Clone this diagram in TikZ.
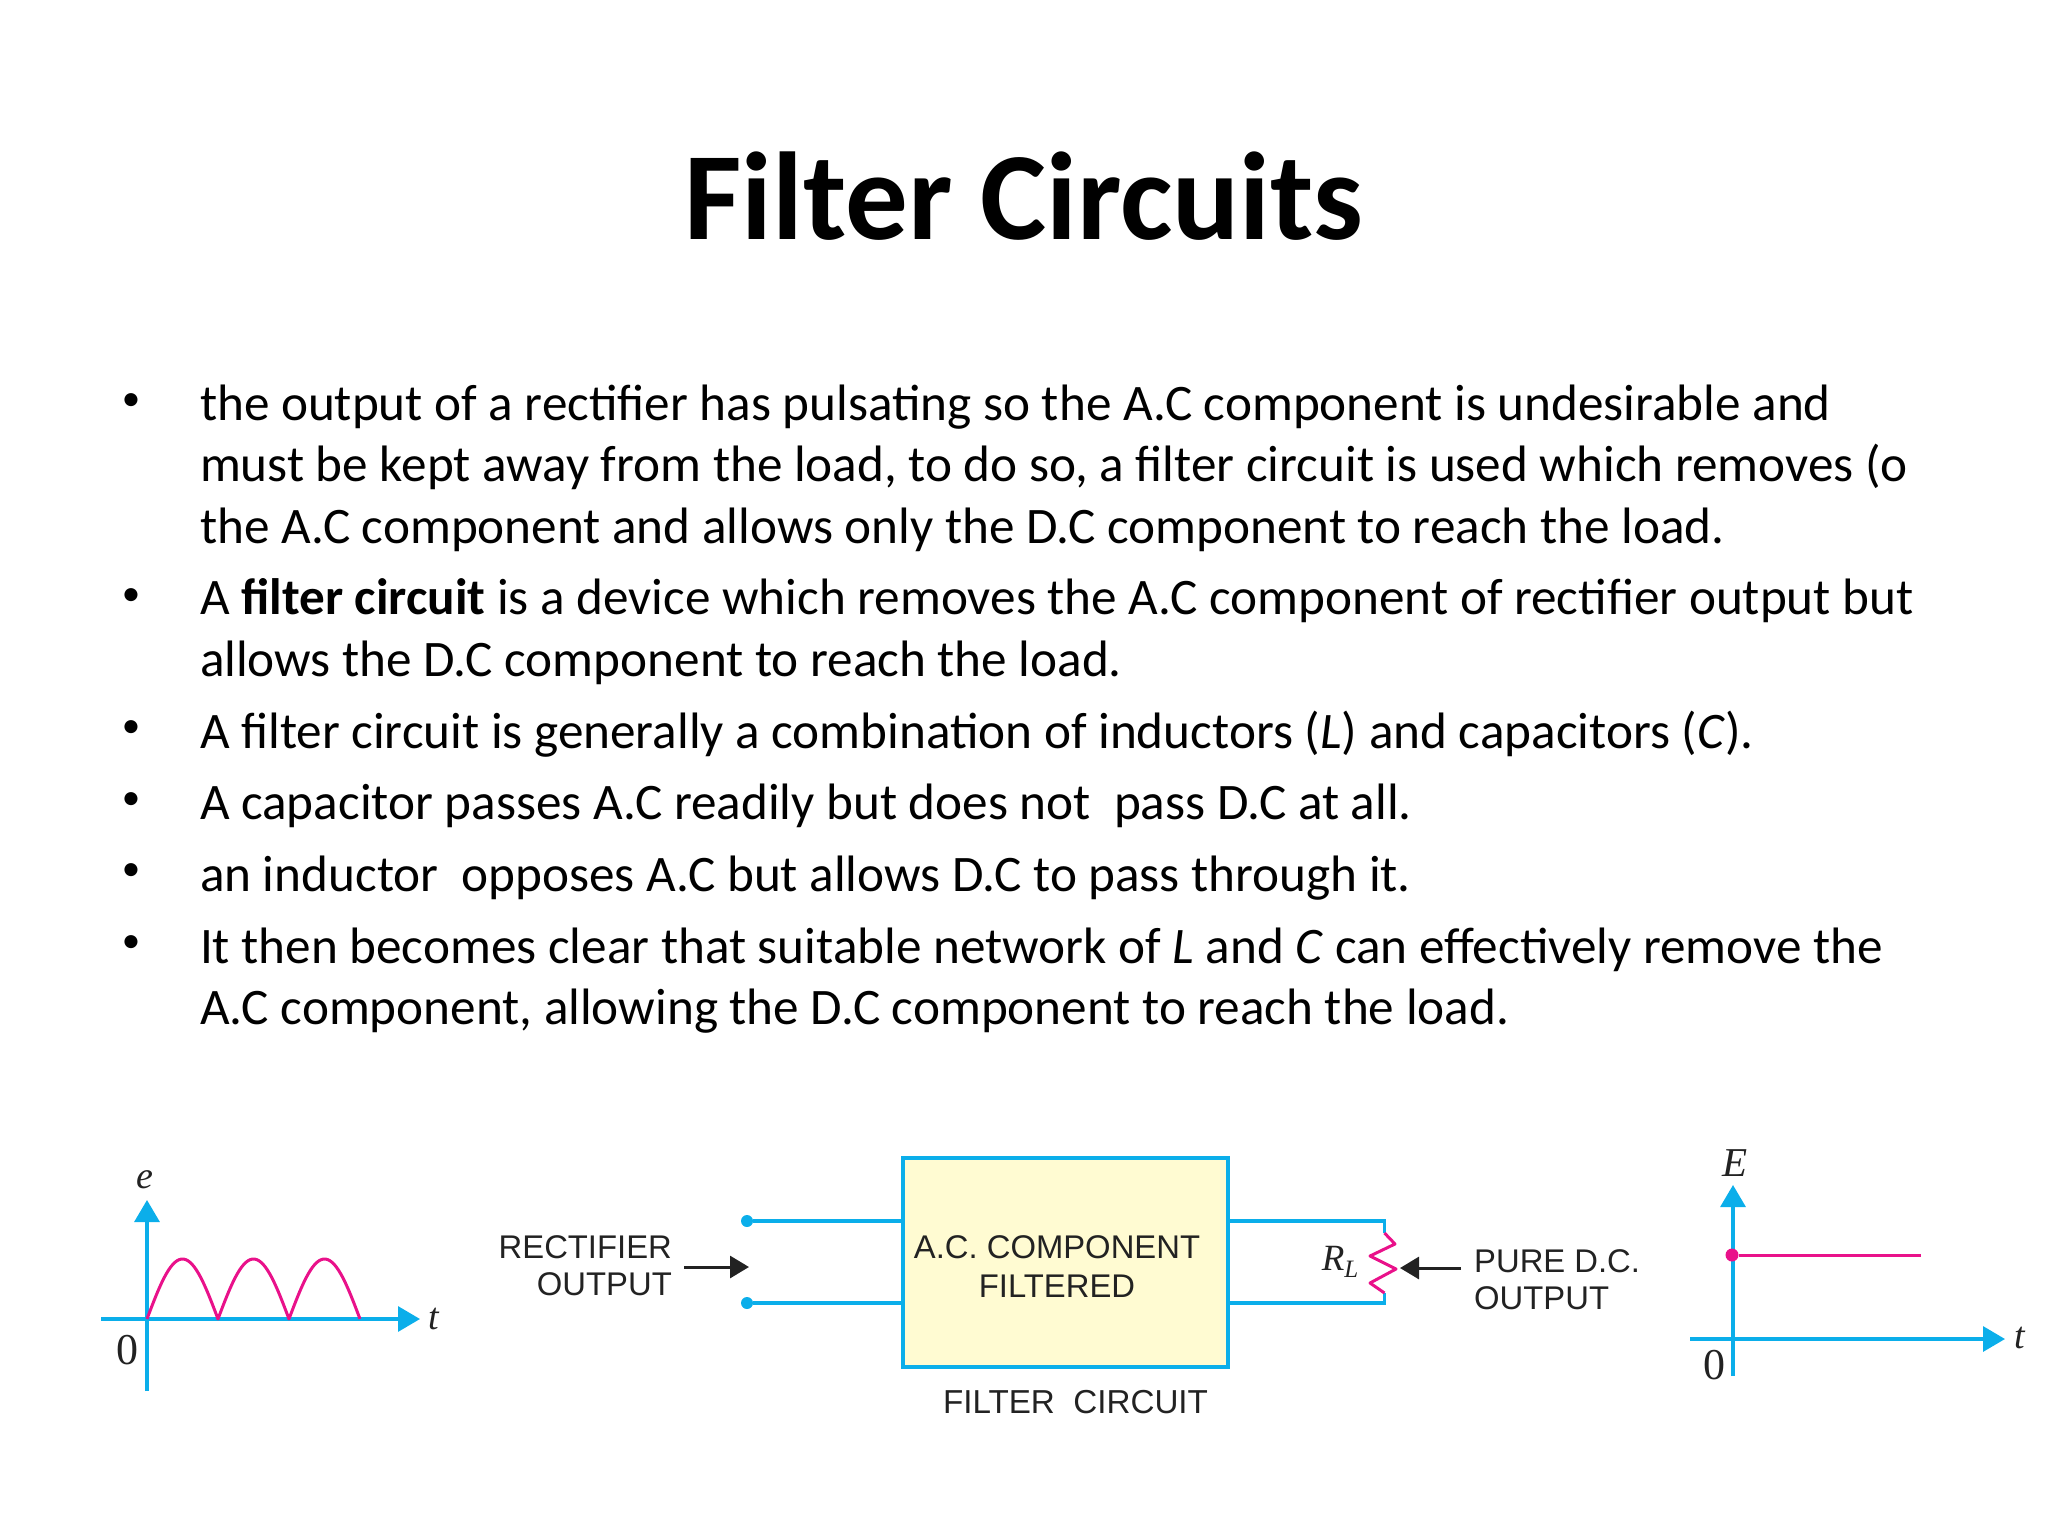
\documentclass[tikz,border=0pt]{standalone}
\usepackage{fontspec}
\usetikzlibrary{arrows.meta}
\setmainfont{Carlito}
\newfontfamily\figsans{Liberation Sans}
\newfontfamily\figserif{Liberation Serif}
\definecolor{wirecyan}{HTML}{0BAEEA}
\definecolor{humppink}{HTML}{E9118A}
\definecolor{boxyellow}{HTML}{FFFBD2}
\definecolor{figink}{HTML}{222222}
\tikzset{
  x=1pt,y=-1pt,
  bodyline/.style={anchor=base west,inner sep=0pt,outer sep=0pt,font=\fontsize{51.2}{60}\selectfont},
  bulletmark/.style={anchor=center,inner sep=0pt,font=\fontsize{37}{40}\selectfont},
  figlabel/.style={inner sep=0pt,text=figink,font=\figsans\fontsize{32.8}{36}\selectfont},
  mathlabel/.style={inner sep=0pt,text=figink,font=\figserif\itshape\fontsize{38}{40}\selectfont},
  numlabel/.style={inner sep=0pt,text=figink,font=\figserif\fontsize{44}{46}\selectfont},
  wire/.style={draw=wirecyan,line width=3.2pt},
  axisarrow/.style={wire,-{Triangle[length=22pt,width=25pt]}},
  inkarrow/.style={draw=figink,line width=3pt,-{Triangle[length=19pt,width=22pt]}},
  pinkline/.style={draw=humppink,line width=3pt,line join=round},
  dotmark/.style={circle,inner sep=0pt,minimum size=12pt},
}
\begin{document}
\begin{tikzpicture}
\useasboundingbox (0,0) rectangle (2048,1536);
\node[anchor=base,inner sep=0pt,font=\fontsize{125}{130}\selectfont\bfseries] (title) at (1024,239) {Filter Circuits};

\foreach \n/\y in {a/402,b/597,c/729,d/801,e/872,f/944}
  \node[bulletmark] (bul\n) at (131,\y) {•};
\node[bodyline] (l1) at (200,420) {the output of a rectifier has pulsating so the A.C component is undesirable and};
\node[bodyline] (l2) at (200,481) {must be kept away from the load, to do so, a filter circuit is used which removes (o};
\node[bodyline] (l3) at (200,543) {the A.C component and allows only the D.C component to reach the load.};
\node[bodyline] (l4) at (200,614) {A \textbf{filter circuit} is a device which removes the A.C component of rectifier output but};
\node[bodyline] (l5) at (200,676) {allows the D.C component to reach the load.};
\node[bodyline] (l6) at (200,748) {A filter circuit is generally a combination of inductors (\textit{L}) and capacitors (\textit{C}).};
\node[bodyline] (l7) at (200,819) {A capacitor passes A.C readily but does not\ \ pass D.C at all.};
\node[bodyline] (l8) at (200,891) {an inductor\ \ opposes A.C but allows D.C to pass through it.};
\node[bodyline] (l9) at (200,963) {It then becomes clear that suitable network of \textit{L} and \textit{C} can effectively remove the};
\node[bodyline] (l10) at (200,1024) {A.C component, allowing the D.C component to reach the load.};

% left graph
\coordinate (o1) at (147,1319);
\coordinate (ytop1) at (147,1200);
\coordinate (ybot1) at (147,1391);
\coordinate (xleft1) at (101,1319);
\coordinate (xtip1) at (420,1319);
\draw[wire] (ybot1) -- (o1);
\draw[axisarrow] (o1) -- (ytop1);
\draw[axisarrow] (xleft1) -- (xtip1);
\draw[pinkline] plot[domain=0:3,samples=121] ({147+71*\x},{1319-60*abs(sin(180*\x))});
\node[mathlabel] (e1) at (145,1180) {e};
\node[mathlabel] (t1) at (434,1319) {t};
\node[numlabel] (z1) at (127,1350) {0};

% block diagram
\node[figlabel,anchor=east] (rect) at (672,1247) {RECTIFIER};
\node[figlabel,anchor=east] (rout) at (672,1284) {OUTPUT};
\coordinate (ra) at (684,1267);
\coordinate (rb) at (749,1267);
\draw[inkarrow] (ra) -- (rb);
\node[dotmark,fill=wirecyan] (in1) at (747,1221) {};
\node[dotmark,fill=wirecyan] (in2) at (747,1303) {};
\node[draw=wirecyan,line width=3.5pt,fill=boxyellow,minimum width=325pt,minimum height=209pt,inner sep=0pt,outer sep=0pt,anchor=north west] (filt) at (903,1158) {};
\draw[wire] (in1) -- (filt.west |- in1);
\draw[wire] (in2) -- (filt.west |- in2);
\node[figlabel] (ac) at (1057,1247) {A.C. COMPONENT};
\node[figlabel] (fd) at (1057,1286) {FILTERED};
\node[figlabel,font=\figsans\fontsize{33.2}{36}\selectfont] (fc) at (1075.5,1402) {FILTER\ \ CIRCUIT};
\coordinate (rtop) at (1384.5,1233);
\coordinate (rbot) at (1384.5,1293);
\draw[wire] (filt.east |- in1) -| (rtop);
\draw[wire] (filt.east |- in2) -| (rbot);
\draw[pinkline] (rtop) -- (1395,1244) -- (1370,1256) -- (1396,1269) -- (1370,1283) -- (rbot);
\node[inner sep=0pt,text=figink,font=\figserif\itshape\fontsize{37}{40}\selectfont] (rl) at (1340,1262) {R\raisebox{-7pt}{\fontsize{25}{26}\selectfont L}};
\coordinate (pa) at (1461,1268);
\coordinate (pb) at (1400,1268);
\draw[inkarrow] (pa) -- (pb);
\node[figlabel,anchor=west] (pure) at (1474,1261) {PURE D.C.};
\node[figlabel,anchor=west] (pout) at (1474,1298) {OUTPUT};

% right graph
\coordinate (o2) at (1733,1339);
\coordinate (ytop2) at (1733,1185);
\coordinate (ybot2) at (1733,1376);
\coordinate (xleft2) at (1690,1339);
\coordinate (xtip2) at (2005,1339);
\draw[wire] (ybot2) -- (o2);
\draw[axisarrow] (o2) -- (ytop2);
\draw[axisarrow] (xleft2) -- (xtip2);
\node[dotmark,fill=humppink,minimum size=13pt] (dc) at (1732,1255) {};
\coordinate (dcend) at (1921,1255);
\draw[pinkline] (dc) -- (dcend);
\node[mathlabel,font=\figserif\itshape\fontsize{41}{42}\selectfont] (e2) at (1735,1163) {E};
\node[mathlabel] (t2) at (2020,1338) {t};
\node[numlabel] (z2) at (1714,1365) {0};
\end{tikzpicture}
\end{document}
